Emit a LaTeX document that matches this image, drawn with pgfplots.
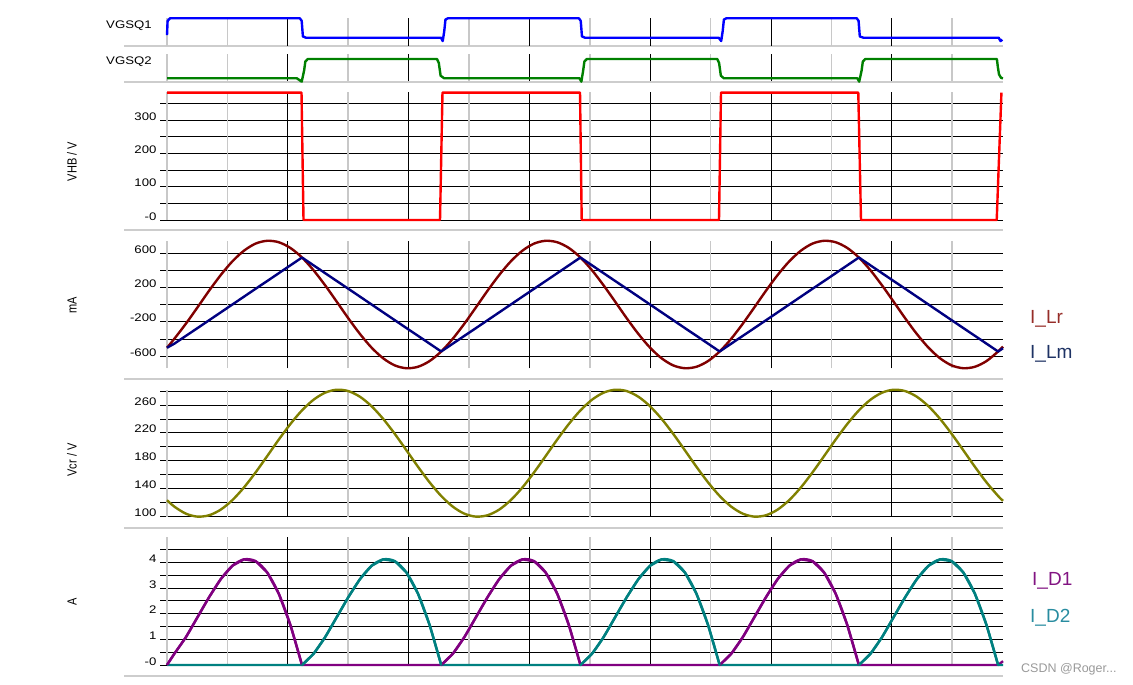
\documentclass[border=0pt]{standalone}
\usepackage{pgfplots}
\pgfplotsset{compat=1.18}
\usepackage{pgfplotstable}
\usepackage{fontspec}
\setmainfont{Liberation Sans}
\usepackage{graphicx}

\definecolor{cQone}{RGB}{0,0,255}
\definecolor{cQtwo}{RGB}{0,128,0}
\definecolor{cHB}{RGB}{255,0,0}
\definecolor{cLr}{RGB}{128,0,0}
\definecolor{cLm}{RGB}{0,0,128}
\definecolor{cCr}{RGB}{128,128,0}
\definecolor{cDone}{RGB}{128,0,128}
\definecolor{cDtwo}{RGB}{0,128,128}
\definecolor{tLr}{RGB}{150,45,40}
\definecolor{tLm}{RGB}{30,50,100}
\definecolor{tDone}{RGB}{130,20,130}
\definecolor{tDtwo}{RGB}{40,140,160}
\definecolor{sep}{RGB}{205,205,205}
\definecolor{vgrid}{RGB}{200,200,200}

\newcommand\hs[1]{\scalebox{1.2}[1]{#1}}
\newcommand\lf{\fontsize{11}{12}\selectfont}

% resonant tank waveforms: t in grid units
\pgfplotstableread{
t Lr Lm Vcr D1 D2
0 -503 -503 123.6 0 0
0.1221 -397 -455 114.4 0.44 0
0.3142 -220 -363 104.3 1.09 0
0.5062 -28 -272 100.1 1.87 0
0.6983 167 -180 102.1 2.65 0
0.8904 350 -88 110.2 3.35 0
1.0825 510 4 123.8 3.87 0
1.2746 635 96 141.9 4.12 0
1.4666 718 188 163.4 4.05 0
1.6587 751 279 186.8 3.61 0
1.8508 734 371 210.5 2.78 0
2.0429 667 463 232.8 1.56 0
2.2350 555 555 252.3 0 0
2.4270 405 463 267.6 0 0.44
2.6191 228 371 277.7 0 1.09
2.8112 36 279 281.9 0 1.87
3.0033 -159 188 279.9 0 2.65
3.1954 -342 96 271.8 0 3.35
3.3874 -502 4 258.2 0 3.87
3.5795 -627 -88 240.1 0 4.12
3.7716 -710 -180 218.6 0 4.05
3.9637 -743 -272 195.2 0 3.61
4.1558 -726 -363 171.5 0 2.78
4.3478 -659 -455 149.2 0 1.56
4.5399 -547 -547 129.7 0 0
4.7320 -397 -455 114.4 0.44 0
4.9241 -220 -363 104.3 1.09 0
5.1162 -28 -272 100.1 1.87 0
5.3082 167 -180 102.1 2.65 0
5.5003 350 -88 110.2 3.35 0
5.6924 510 4 123.8 3.87 0
5.8845 635 96 141.9 4.12 0
6.0766 718 188 163.4 4.05 0
6.2686 751 279 186.8 3.61 0
6.4607 734 371 210.5 2.78 0
6.6528 667 463 232.8 1.56 0
6.8449 555 555 252.3 0 0
7.0370 405 463 267.6 0 0.44
7.2290 228 371 277.7 0 1.09
7.4211 36 279 281.9 0 1.87
7.6132 -159 188 279.9 0 2.65
7.8053 -342 96 271.8 0 3.35
7.9974 -502 4 258.2 0 3.87
8.1894 -627 -88 240.1 0 4.12
8.3815 -710 -180 218.6 0 4.05
8.5736 -743 -272 195.2 0 3.61
8.7657 -726 -363 171.5 0 2.78
8.9578 -659 -455 149.2 0 1.56
9.1498 -547 -547 129.7 0 0
9.3419 -397 -455 114.4 0.44 0
9.5340 -220 -363 104.3 1.09 0
9.7261 -28 -272 100.1 1.87 0
9.9182 167 -180 102.1 2.65 0
10.1102 350 -88 110.2 3.35 0
10.3023 510 4 123.8 3.87 0
10.4944 635 96 141.9 4.12 0
10.6865 718 188 163.4 4.05 0
10.8786 751 279 186.8 3.61 0
11.0706 734 371 210.5 2.78 0
11.2627 667 463 232.8 1.56 0
11.4548 555 555 252.3 0 0
11.6469 405 463 267.6 0 0.44
11.8390 228 371 277.7 0 1.09
12.0310 36 279 281.9 0 1.87
12.2231 -159 188 279.9 0 2.65
12.4152 -342 96 271.8 0 3.35
12.6073 -502 4 258.2 0 3.87
12.7994 -627 -88 240.1 0 4.12
12.9914 -710 -180 218.6 0 4.05
13.1835 -743 -272 195.2 0 3.61
13.3756 -726 -363 171.5 0 2.78
13.5677 -659 -455 149.2 0 1.56
13.7598 -547 -547 129.7 0 0
13.841 -489 -509 122.7 0.15 0
}\wave

\tikzset{leftline/.style={vgrid, line width=2.8pt}}

\pgfplotsset{
  panel/.style={
    scale only axis, width=836pt,
    xmin=0, xmax=13.841,
    axis line style={draw=none},
    clip=false,
    xtick={2,4,...,12}, xticklabels={},
    extra x ticks={1,3,...,13}, extra x tick labels={},
    extra x tick style={major grid style={vgrid, line width=1.5pt}},
    xmajorgrids, ymajorgrids,
    xmajorticks=false,
    major grid style={black, line width=0.9pt},
    ytick pos=left, tick align=outside, major tick length=7pt,
    tick style={black, line width=0.9pt},
    yticklabel style={font=\lf, anchor=base east},
    anchor=north west,
  },
  gate/.style={panel, ytick=\empty},
  trace/.style={line width=2.4pt, line join=round},
}

\begin{document}
\begin{tikzpicture}
\useasboundingbox (0,0) rectangle (1133pt,-685pt);

% panel separators
\foreach \yy in {46,82,230,379.3,527.7,676}
  \draw[sep, line width=1.8pt] (124pt,-\yy pt) -- (1003pt,-\yy pt);

% VGSQ1
\begin{axis}[gate, at={(167pt,-18.3pt)}, height=27.7pt, ymin=-6.4, ymax=15]
\draw[leftline] (rel axis cs:0,0) -- (rel axis cs:0,1);
\addplot[trace, cQone] coordinates {(0,2) (0.01,13) (0.05,15) (2.20,15) (2.23,13) (2.25,1) (2.30,0)
 (4.536,0) (4.565,-2.6) (4.59,5) (4.61,14) (4.65,15) (6.82,15) (6.85,13) (6.87,1) (6.92,0)
 (9.135,0) (9.175,-2.6) (9.20,5) (9.22,14) (9.26,15) (11.42,15) (11.45,13) (11.47,1) (11.53,0)
 (13.77,0) (13.80,-2.6) (13.83,-1.5)};
\end{axis}

% VGSQ2
\begin{axis}[gate, at={(167pt,-54pt)}, height=27pt, ymin=-2.1, ymax=18.9]
\draw[leftline] (rel axis cs:0,0) -- (rel axis cs:0,1);
\addplot[trace, cQtwo] coordinates {(0,0) (2.15,0) (2.23,-2.6) (2.27,6) (2.29,13) (2.33,15)
 (4.47,15) (4.50,12) (4.53,2) (4.59,0) (6.83,0) (6.86,-2.6) (6.89,6) (6.91,13) (6.95,15)
 (9.11,15) (9.14,12) (9.17,2) (9.22,0) (11.43,0) (11.46,-2.6) (11.50,6) (11.52,13) (11.56,15)
 (13.74,15) (13.755,9) (13.775,3) (13.81,0.3) (13.841,0)};
\end{axis}

% VHB
\begin{axis}[panel, at={(167pt,-91.7pt)}, height=128.3pt, ymin=0, ymax=385,
  ytick={0,50,...,350}, yticklabels={\hs{-0},,\hs{100},,\hs{200},,\hs{300},}]
\draw[leftline] (rel axis cs:0,0) -- (rel axis cs:0,1);
\addplot[trace, cHB] coordinates {(0,382) (2.227,382) (2.260,0) (4.520,0) (4.561,382)
 (6.838,382) (6.866,0) (9.139,0) (9.172,382) (11.445,382) (11.490,0) (13.737,0) (13.815,382)};
\end{axis}

% currents in mA
\begin{axis}[panel, at={(167pt,-240.7pt)}, height=127.6pt, ymin=-744, ymax=752,
  ytick={-600,-400,...,600}, yticklabels={\hs{-600},,\hs{-200},,\hs{200},,\hs{600}}]
\draw[leftline] (rel axis cs:0,0) -- (rel axis cs:0,1);
\addplot[trace, cLr, smooth, tension=0.5] table[x=t, y=Lr] {\wave};
\addplot[trace, cLm] table[x=t, y=Lm] {\wave};
\end{axis}

% Vcr
\begin{axis}[panel, at={(167pt,-390pt)}, height=126.7pt, ymin=100, ymax=281.5,
  ytick={100,120,...,280}, yticklabels={\hs{100},,\hs{140},,\hs{180},,\hs{220},,\hs{260},}]
\draw[leftline] (rel axis cs:0,0) -- (rel axis cs:0,1);
\addplot[trace, cCr, smooth, tension=0.5] table[x=t, y=Vcr] {\wave};
\end{axis}

% diode currents in A
\begin{axis}[panel, at={(167pt,-537.3pt)}, height=127.7pt, ymin=0, ymax=4.98,
  ytick={0,0.5,1,1.5,2,2.5,3,3.5,4,4.5}, yticklabels={\hs{-0},,\hs{1},,\hs{2},,\hs{3},,\hs{4},}]
\draw[leftline] (rel axis cs:0,0) -- (rel axis cs:0,1);
\addplot[trace, cDone] table[x=t, y=D1] {\wave};
\addplot[trace, cDtwo] table[x=t, y=D2] {\wave};
% rounded humps over the conduction intervals
\addplot[trace, cDone, smooth, tension=0.5, restrict x to domain=-0.01:2.24] table[x=t, y=D1] {\wave};
\addplot[trace, cDone, smooth, tension=0.5, restrict x to domain=4.53:6.85] table[x=t, y=D1] {\wave};
\addplot[trace, cDone, smooth, tension=0.5, restrict x to domain=9.14:11.46] table[x=t, y=D1] {\wave};
\addplot[trace, cDtwo, smooth, tension=0.5, restrict x to domain=2.23:4.545] table[x=t, y=D2] {\wave};
\addplot[trace, cDtwo, smooth, tension=0.5, restrict x to domain=6.84:9.155] table[x=t, y=D2] {\wave};
\addplot[trace, cDtwo, smooth, tension=0.5, restrict x to domain=11.45:13.765] table[x=t, y=D2] {\wave};
\end{axis}

% labels
\node[anchor=base west, inner sep=0pt] at (106pt,-28.7pt) {\lf\hs{VGSQ1}};
\node[anchor=base west, inner sep=0pt] at (106pt,-64.7pt) {\lf\hs{VGSQ2}};
\node[rotate=90, inner sep=0pt] at (72pt,-161.7pt) {\lf\scalebox{1}[1.2]{VHB / V}};
\node[rotate=90, inner sep=0pt] at (72pt,-305pt) {\lf\scalebox{1}[1.2]{mA}};
\node[rotate=90, inner sep=0pt] at (72pt,-460pt) {\lf\scalebox{1}[1.2]{Vcr / V}};
\node[rotate=90, inner sep=0pt] at (72pt,-601.7pt) {\lf\scalebox{1}[1.2]{A}};

\node[anchor=base west, inner sep=0pt, text=tLr, font=\fontsize{19}{20}\selectfont] at (1030pt,-323.3pt) {I\_Lr};
\node[anchor=base west, inner sep=0pt, text=tLm, font=\fontsize{19}{20}\selectfont] at (1030pt,-358.7pt) {I\_Lm};
\node[anchor=base west, inner sep=0pt, text=tDone, font=\fontsize{19}{20}\selectfont] at (1032pt,-585.7pt) {I\_D1};
\node[anchor=base west, inner sep=0pt, text=tDtwo, font=\fontsize{19}{20}\selectfont] at (1030pt,-622.3pt) {I\_D2};
\node[anchor=base west, inner sep=0pt, text=black!40, font=\fontsize{12.5}{13}\selectfont] at (1021pt,-672pt) {CSDN @Roger...};
\end{tikzpicture}
\end{document}
